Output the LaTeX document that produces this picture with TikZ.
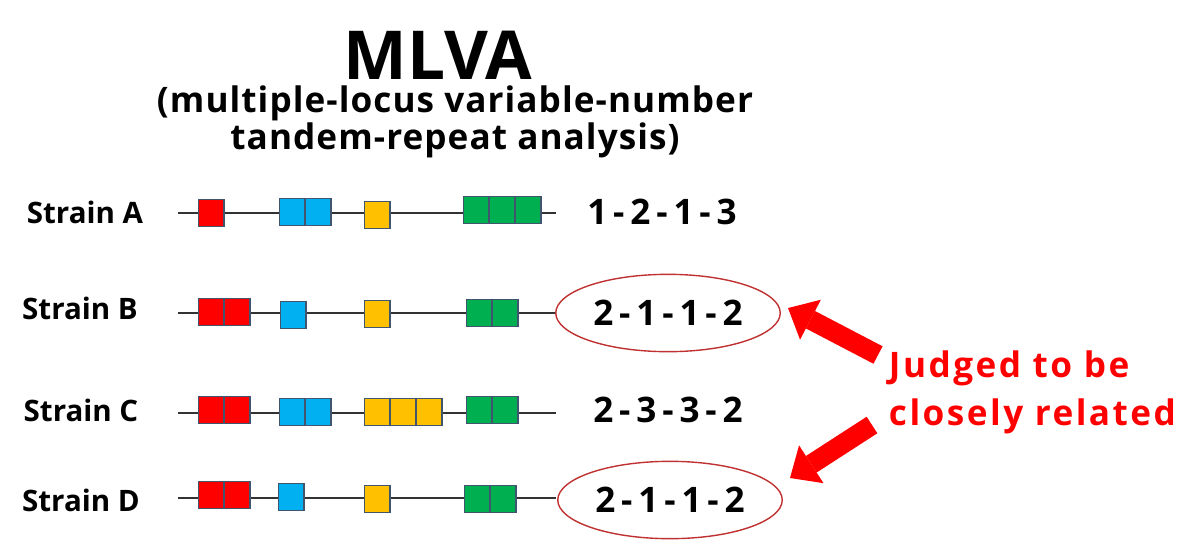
\documentclass[tikz,border=0pt]{standalone}
\usepackage{fontspec}
\setmainfont{Open Sans}
\usetikzlibrary{arrows.meta}
\usetikzlibrary{shapes.geometric}
\definecolor{cred}{RGB}{255,0,0}
\definecolor{cblue}{RGB}{0,176,240}
\definecolor{cyellow}{RGB}{255,192,0}
\definecolor{cgreen}{RGB}{0,176,80}
\definecolor{boxline}{RGB}{65,85,110}
\definecolor{ringred}{RGB}{192,50,50}

\begin{document}
\begin{tikzpicture}[x=0.025cm, y=-0.025cm,
    unit/.style={draw=boxline, line width=0.8pt, minimum width=18.4pt, minimum height=19pt, inner sep=0pt},
    strand/.style={line width=1pt, draw=black!80},
    strainname/.style={font=\fontsize{21}{24}\selectfont\bfseries},
    typing/.style={font=\fontsize{25}{30}\selectfont\bfseries},
    ring/.style={ellipse, draw=ringred, line width=1pt, minimum width=156pt, minimum height=55pt},
    bigarrow/.style={draw=cred, line width=14pt, -{Triangle[length=18pt, width=32pt, line width=0pt]}}]
    \useasboundingbox (0,0) rectangle (1200,546);

    % title
    \node[inner sep=0pt] (title) at (438,55) {\fontsize{48}{50}\selectfont\bfseries MLVA};
    \node[inner sep=0pt, align=center, font=\fontsize{25}{21.3}\selectfont\bfseries\addfontfeatures{LetterSpace=3}] (subtitle) at (455,122) {(multiple-locus variable-number\\tandem-repeat analysis)};

    % strain names
    \node[strainname] (nameA) at (85,212) {Strain A};
    \node[strainname] (nameB) at (80,308) {Strain B};
    \node[strainname] (nameC) at (81,410) {Strain C};
    \node[strainname] (nameD) at (81,500) {Strain D};

    % loci
    \foreach \r/\y in {A/213, B/313, C/413, D/498} {
        \coordinate (\r0) at (178,\y);
        \coordinate (\r1) at (556,\y);
        \draw[strand] (\r0) -- (\r1);
    }
    \foreach \r/\x/\y/\n/\c in {A/211/213/1/cred, A/292/212/2/cblue, A/377/215/1/cyellow, A/476/210/3/cgreen,
                                B/211/312/2/cred, B/293/315/1/cblue, B/377/314/1/cyellow, B/479/313/2/cgreen,
                                C/211/410/2/cred, C/292/412/2/cblue, C/377/412/3/cyellow, C/479/410/2/cgreen,
                                D/211/495/2/cred, D/291/497/1/cblue, D/377/499/1/cyellow, D/477/499/2/cgreen}
        \foreach \i in {1,...,\n}
            \node[unit, fill=\c] (\r-\c-\i) at ({\x+26*(\i-1)},\y) {};

    % profiles
    \node[typing] (typeA) at (662,212) {1\,-\,2\,-\,1\,-\,3};
    \node[typing, ring] (typeB) at (668,313) {2\,-\,1\,-\,1\,-\,2};
    \node[typing] (typeC) at (668,410) {2\,-\,3\,-\,3\,-\,2};
    \node[typing, ring] (typeD) at (670,500) {2\,-\,1\,-\,1\,-\,2};

    \node[anchor=west, align=left, text=cred, font=\fontsize{25}{34}\selectfont\bfseries\addfontfeatures{LetterSpace=7}] (judge) at (884,392) {Judged to be\\closely related};
    \coordinate (tailB) at (878,355);
    \coordinate (tipB) at (788,308);
    \coordinate (tailD) at (872,425);
    \coordinate (tipD) at (790,478);
    \draw[bigarrow] (tailB) -- (tipB);
    \draw[bigarrow] (tailD) -- (tipD);
\end{tikzpicture}
\end{document}
